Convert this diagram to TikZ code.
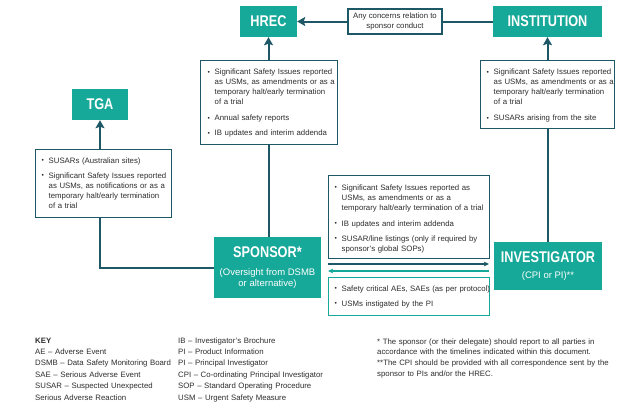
\documentclass[tikz,border=0pt]{standalone}
\usepackage{fontspec}
\setmainfont{Liberation Sans}
\newfontfamily\condfont[FakeStretch=0.82]{Liberation Sans}
\usetikzlibrary{arrows.meta}
\definecolor{tealfill}{RGB}{22,168,152}
\definecolor{darkline}{RGB}{30,88,102}
\definecolor{bodytext}{RGB}{45,45,45}
\newcommand\bitem[1]{\par\noindent\hbox to 7bp{\raisebox{0.3bp}{\scalebox{0.85}{\textbullet}}\hss}\begin{tabular}[t]{@{}l@{}}#1\end{tabular}\par}
\newcommand\isep{\vspace{5bp}}
\newcommand\subtxt{\fontsize{9.5bp}{11bp}\selectfont\mdseries\rmfamily}
\newcommand\titletxt{\condfont\bfseries\fontsize{15.5bp}{17bp}\selectfont}
\newcommand\ctrline[2]{\hbox to #1{\hfil#2\hfil}}
\tikzset{
  title/.style={fill=tealfill, text=white, inner sep=0pt, align=center,
    font=\titletxt},
  listbox/.style={draw=darkline, line width=1.4bp, fill=white, inner sep=0pt,
    anchor=north west},
  listtxt/.style={anchor=north west, inner sep=0pt, align=left, text=bodytext,
    font=\fontsize{7.8bp}{10bp}\selectfont},
  conn/.style={draw=darkline, line width=2bp},
  arr/.style={conn, -{Stealth[length=8bp,width=9bp,inset=1.5bp]}},
  thinarr/.style={line width=1.2bp, -{Stealth[length=5bp,width=4.5bp,inset=1bp]}},
  plain/.style={inner sep=0pt, anchor=base west, align=left, text=bodytext,
    font=\fontsize{7.8bp}{11.4bp}\selectfont},
}
\begin{document}
\begin{tikzpicture}[x=1bp, y=-1bp]
\useasboundingbox (0,0) rectangle (624,407);
\fill[white] (0,0) rectangle (624,407);

% title boxes
\node[title, minimum width=57bp, minimum height=31bp] (hrec) at (268.5,21.5) {HREC};
\node[title, minimum width=109bp, minimum height=31bp] (inst) at (547.5,21.5) {INSTITUTION};
\node[title, minimum width=56bp, minimum height=31bp] (tga) at (100,104.5) {TGA};
\node[fill=tealfill, text=white, inner sep=0pt, minimum width=107bp, minimum height=61bp] (sponsor) at (267.5,267.8)
  {\vbox{\baselineskip=18.5bp \lineskiplimit=-20bp
    \ctrline{107bp}{\titletxt SPONSOR*}
    \ctrline{107bp}{\subtxt (Oversight from DSMB}
    \baselineskip=11bp
    \ctrline{107bp}{\subtxt or alternative)}}};
\node[fill=tealfill, text=white, inner sep=0pt, minimum width=108bp, minimum height=48bp] (inv) at (548,266)
  {\vbox{\baselineskip=15.5bp \lineskiplimit=-20bp
    \ctrline{108bp}{\titletxt INVESTIGATOR}
    \ctrline{108bp}{\subtxt (CPI or PI)**}}};

% concerns box
\node[draw=darkline, line width=1.4bp, fill=white, inner sep=0pt, minimum width=94bp,
  minimum height=25bp, align=center, text=bodytext,
  font=\fontsize{7.8bp}{10bp}\selectfont] (concern) at (395,21.5)
  {Any concerns relation to\\sponsor conduct};

% list boxes
\node[listbox, minimum width=137bp, minimum height=84bp] (hreclist) at (200,60) {};
\node[listtxt, text width=128bp] (hreltxt) at (207.5,64.5) {%
\bitem{Significant Safety Issues reported\\as USMs, as amendments or as a\\temporary halt/early termination\\of a trial}\isep
\bitem{Annual safety reports}\isep
\bitem{IB updates and interim addenda}};

\node[listbox, minimum width=134bp, minimum height=68bp] (instlist) at (480,60) {};
\node[listtxt, text width=128bp] (insttxt) at (486.5,64.5) {%
\bitem{Significant Safety Issues reported\\as USMs, as amendments or as a\\temporary halt/early termination\\of a trial}\isep
\bitem{SUSARs arising from the site}};

\node[listbox, minimum width=136bp, minimum height=68bp] (tgalist) at (35,149) {};
\node[listtxt, text width=128bp] (tgatxt) at (41.5,153) {%
\bitem{SUSARs (Australian sites)}\isep
\bitem{Significant Safety Issues reported\\as USMs, as notifications or as a\\temporary halt/early termination\\of a trial}};

\node[listbox, minimum width=161bp, minimum height=83bp] (toplist) at (328,175) {};
\node[listtxt, text width=155bp] (toptxt) at (334.5,180) {%
\bitem{Significant Safety Issues reported as\\USMs, as amendments or as a\\temporary halt/early termination of a trial}\isep
\bitem{IB updates and interim addenda}\isep
\bitem{SUSAR/line listings (only if required by\\sponsor's global SOPs)}};

\node[listbox, draw=tealfill, minimum width=161bp, minimum height=38bp] (botlist) at (328,277) {};
\node[listtxt, text width=155bp] (bottxt) at (334.5,281) {%
\bitem{Safety critical AEs, SAEs (as per protocol)}\isep
\bitem{USMs instigated by the PI}};

% connectors
\draw[arr] (hreclist.north -| hrec.south) -- (hrec.south);
\draw[arr] (instlist.north -| inst.south) -- (inst.south);
\draw[arr] (tgalist.north -| tga.south) -- (tga.south);
\draw[conn] (inst.west) -- (concern.east);
\draw[arr] (concern.west) -- (concern.west -| hrec.east);
\draw[conn] (hreclist.south -| hrec.south) -- (sponsor.north -| hrec.south);
\draw[conn] (tgalist.south -| tga.south) |- (sponsor.west);
\draw[conn] (instlist.south -| inst.south) -- (inv.north -| inst.south);
\coordinate (a1) at (328,264);
\coordinate (a2) at (489,264);
\coordinate (b1) at (489,271);
\coordinate (b2) at (328,271);
\draw[thinarr, darkline] (a1) -- (a2);
\draw[thinarr, tealfill] (b1) -- (b2);

% key
\node[plain, text width=140bp] (keyl) at (35,343) {{\bfseries KEY}\\AE -- Adverse Event\\DSMB -- Data Safety Monitoring Board\\SAE -- Serious Adverse Event\\SUSAR -- Suspected Unexpected\\Serious Adverse Reaction};
\node[plain, text width=190bp] (keyr) at (178,343) {IB -- Investigator's Brochure\\PI -- Product Information\\PI -- Principal Investigator\\CPI -- Co-ordinating Principal Investigator\\SOP -- Standard Operating Procedure\\USM -- Urgent Safety Measure};
\node[plain, text width=240bp, font=\fontsize{7.8bp}{10.7bp}\selectfont] (foot) at (377,344) {* The sponsor (or their delegate) should report to all parties in\\accordance with the timelines indicated within this document.\\{}**The CPI should be provided with all correspondence sent by the\\sponsor to PIs and/or the HREC.};
\end{tikzpicture}
\end{document}
